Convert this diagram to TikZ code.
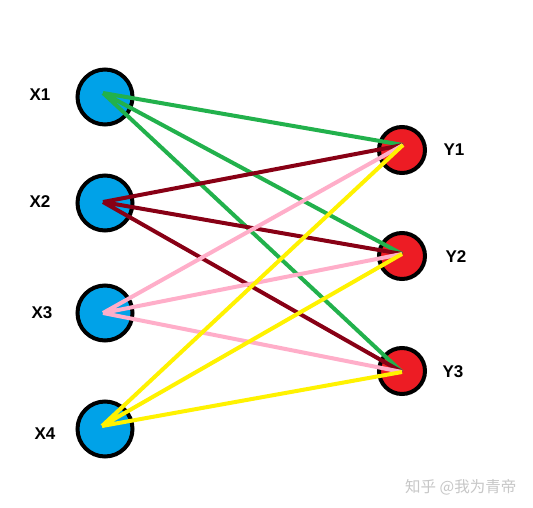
\documentclass[tikz,border=0pt]{standalone}
\usepackage{fontspec}
\setmainfont{Liberation Sans}
\newfontfamily\cjk{Noto Sans CJK SC}
\definecolor{pblue}{HTML}{00A2E8}
\definecolor{pred}{HTML}{ED1C24}
\definecolor{pgreen}{HTML}{22B14C}
\definecolor{pdark}{HTML}{880015}
\definecolor{ppink}{HTML}{FFAEC9}
\definecolor{pyellow}{HTML}{FFF200}
\begin{document}
\begin{tikzpicture}[x=1pt,y=-1pt,
  xnode/.style={circle,draw=black,line width=4pt,fill=pblue,minimum size=55pt,inner sep=0pt},
  ynode/.style={circle,draw=black,line width=4pt,fill=pred,minimum size=46pt,inner sep=0pt},
  lbl/.style={font=\fontsize{17}{20}\selectfont\bfseries},
  edge/.style={line width=4pt}]
\useasboundingbox (0,0) rectangle (533,508);
\fill[white] (0,0) rectangle (533,508);
\node[xnode] (X1) at (105,97) {};
\node[xnode] (X2) at (105,203) {};
\node[xnode] (X3) at (105,313) {};
\node[xnode] (X4) at (105,429) {};
\node[ynode] (Y1) at (402,150) {};
\node[ynode] (Y2) at (402,256) {};
\node[ynode] (Y3) at (402,371) {};
\coordinate (x1) at (103,93);
\coordinate (x2) at (103,202);
\coordinate (x3) at (103,313);
\coordinate (x4) at (102,426);
\coordinate (y1) at (403,145);
\coordinate (y2) at (402,254);
\coordinate (y3) at (402,372);
\node[lbl] (L1) at (40,95) {X1};
\node[lbl] (L2) at (40,202) {X2};
\node[lbl] (L3) at (42,313) {X3};
\node[lbl] (L4) at (45,434) {X4};
\node[lbl] (M1) at (454,150) {Y1};
\node[lbl] (M2) at (456,257) {Y2};
\node[lbl] (M3) at (453,372) {Y3};
\draw[edge,pgreen] (x1) -- (y1) (x1) -- (y2) (x1) -- (y3);
\draw[edge,pdark] (x2) -- (y1) (x2) -- (y2) (x2) -- (y3);
\draw[edge,ppink] (x3) -- (y1) (x3) -- (y2) (x3) -- (y3);
\draw[edge,pyellow] (x4) -- (y1) (x4) -- (y2) (x4) -- (y3);
\node[text=black!22,font=\cjk\fontsize{15.5}{18}\selectfont,anchor=west,inner sep=0pt] (wm) at (405,487) {知乎 @我为青帝};
\end{tikzpicture}
\end{document}
